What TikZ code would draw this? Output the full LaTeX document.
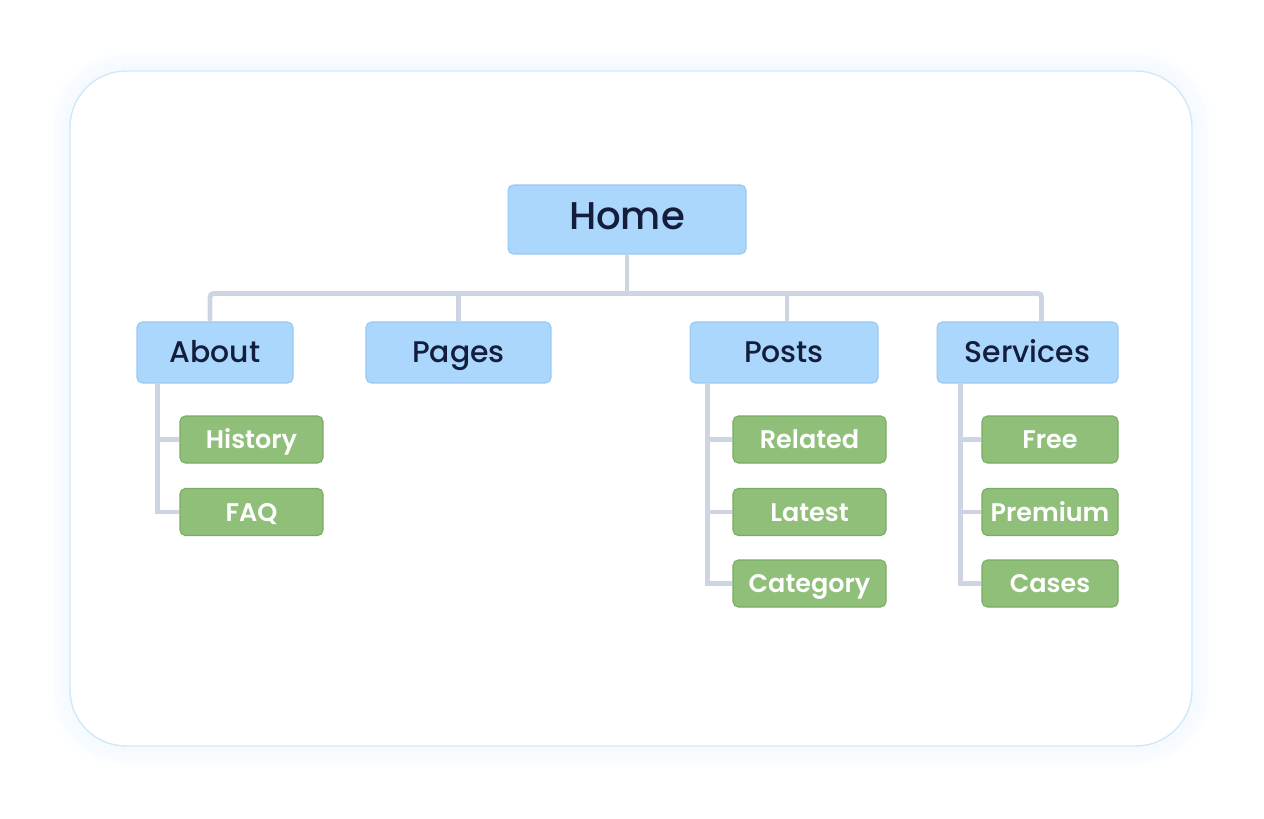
\documentclass[tikz,border=0pt]{standalone}
\usepackage{fontspec}
\setmainfont{Poppins}
\newfontfamily\mediumfont{Poppins Medium}
\newfontfamily\semifont{Poppins SemiBold}
\usepackage{xcolor}
\usetikzlibrary{calc}
\definecolor{cardEdge}{HTML}{D2E8F9}
\definecolor{glowColor}{HTML}{E6F3FE}
\definecolor{topFill}{HTML}{ABD7FC}
\definecolor{topEdge}{HTML}{97C8F2}
\definecolor{leafFill}{HTML}{8FBF78}
\definecolor{leafEdge}{HTML}{79AD62}
\definecolor{linkColor}{HTML}{CCD5E1}
\definecolor{inkColor}{HTML}{141E3C}

\begin{document}
\begin{tikzpicture}[x=0.02cm, y=-0.02cm,
    section/.style={draw=topEdge, fill=topFill, rounded corners=3pt, line width=0.6pt,
        text=inkColor, minimum height=1.22cm, inner sep=0pt, text height=1.1em, text depth=0em,
        font=\mediumfont\fontsize{17}{20}\selectfont},
    leaf/.style={draw=leafEdge, fill=leafFill, rounded corners=3pt, line width=0.6pt,
        text=white, minimum height=0.94cm, inner sep=0pt, text height=1.05em, text depth=0em,
        font=\semifont\fontsize{14.5}{17}\selectfont},
    link/.style={draw=linkColor, line width=2.8pt}]
    \useasboundingbox (0,0) rectangle (1264,818);
    % card with soft glow
    \foreach \w in {24, 18, 12, 6}
        \draw[glowColor, line width=\w pt, opacity=0.12, rounded corners=32]
            (70,71) rectangle (1192,746);
    \draw[cardEdge, fill=white, line width=0.8pt, rounded corners=32]
        (70,71) rectangle (1192,746);

    % root
    \node[section, minimum width=4.76cm, minimum height=1.38cm,
        font=\mediumfont\fontsize{22}{26}\selectfont] (home) at (627,219.5) {Home};

    % sections
    \node[section, minimum width=3.12cm] (about) at (215,352.5) {About};
    \node[section, minimum width=3.70cm] (pages) at (458.5,352.5) {Pages};
    \node[section, minimum width=3.76cm] (posts) at (784,352.5) {Posts};
    \node[section, minimum width=3.62cm] (services) at (1027.5,352.5) {Services};

    % leaves
    \node[leaf, minimum width=2.86cm] (history) at (251.5,439.5) {History};
    \node[leaf, minimum width=2.86cm] (faq) at (251.5,512) {FAQ};
    \node[leaf, minimum width=3.06cm] (related) at (809.5,439.5) {Related};
    \node[leaf, minimum width=3.06cm] (latest) at (809.5,512) {Latest};
    \node[leaf, minimum width=3.06cm] (category) at (809.5,583.5) {Category};
    \node[leaf, minimum width=2.72cm] (free) at (1050,439.5) {Free};
    \node[leaf, minimum width=2.72cm] (premium) at (1050,512) {Premium};
    \node[leaf, minimum width=2.72cm] (cases) at (1050,583.5) {Cases};

    % bar under home
    \draw[link] (home.south) -- ++(0,39) coordinate (bar);
    \draw[link, rounded corners=2pt] (bar) -| ($(about.north)+(-5,0)$);
    \draw[link] (bar) -| (pages.north);
    \draw[link] (bar) -| ($(posts.north)+(3,0)$);
    \draw[link, rounded corners=2pt] (bar) -| ($(services.north)+(14,0)$);

    % trunks to leaves
    \draw[link] ($(about.south west)+(21,0)$) |- (history.west);
    \draw[link] ($(about.south west)+(21,0)$) |- (faq.west);
    \foreach \n in {related, latest, category}
        \draw[link] ($(posts.south west)+(18,0)$) |- (\n.west);
    \foreach \n in {free, premium, cases}
        \draw[link] ($(services.south west)+(24,0)$) |- (\n.west);
\end{tikzpicture}
\end{document}
